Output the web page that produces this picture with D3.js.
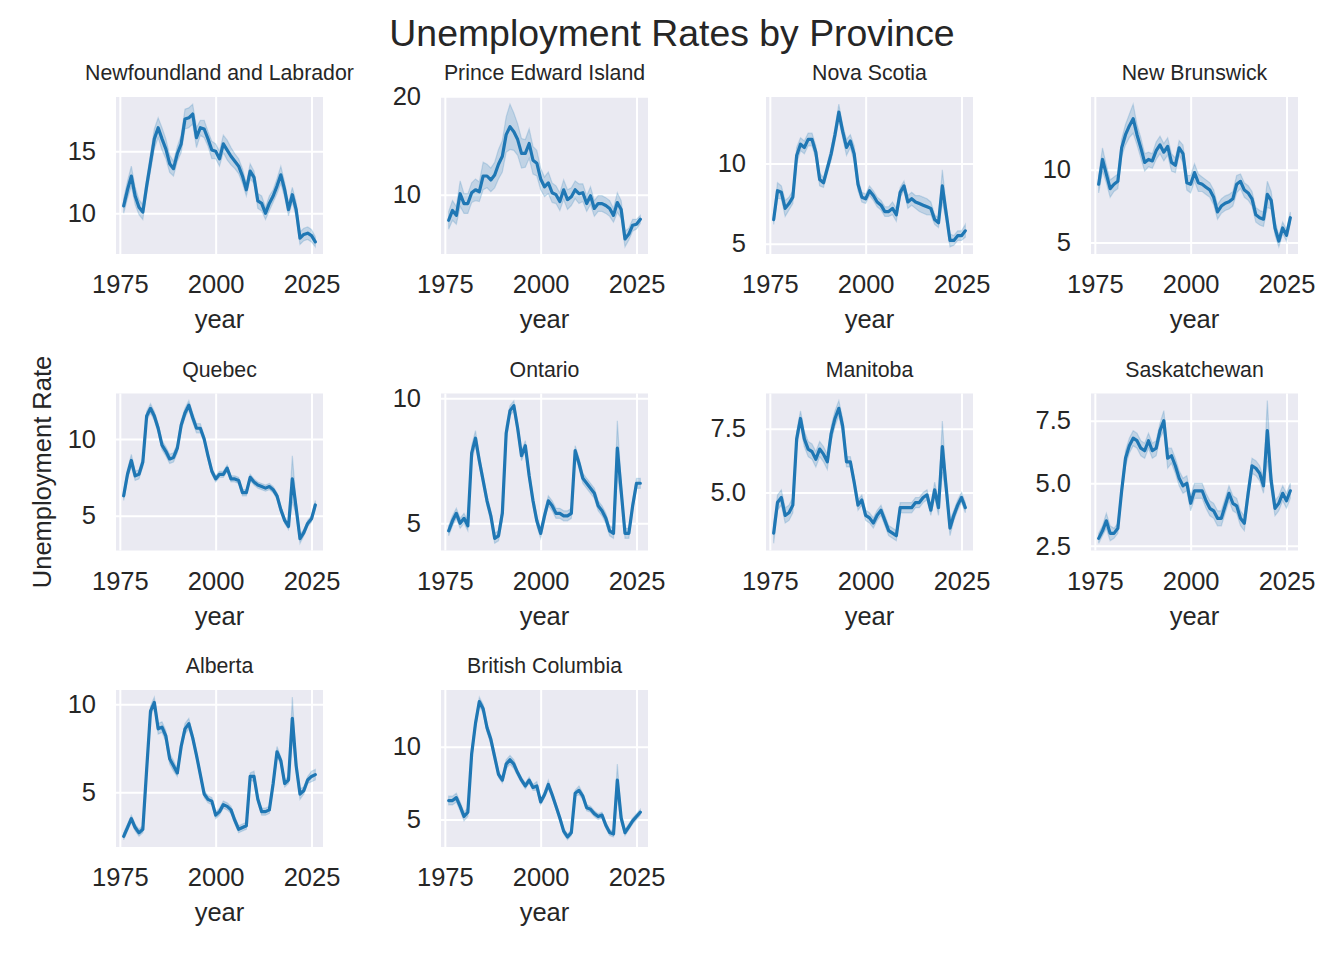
<!DOCTYPE html>
<html>
<head>
<meta charset="utf-8">
<script src="https://cdn.jsdelivr.net/npm/d3@7"></script>
<style>
  body { margin: 0; background: #fff; }
  text { font-family: "Liberation Sans", Arial, sans-serif; fill: #262626; }
</style>
</head>
<body>
<div class="facet-chart"></div>
<script>
// 資料: 年份 1976-2026
const years = [1976,1977,1978,1979,1980,1981,1982,1983,1984,1985,
               1986,1987,1988,1989,1990,1991,1992,1993,1994,1995,
               1996,1997,1998,1999,2000,2001,2002,2003,2004,2005,
               2006,2007,2008,2009,2010,2011,2012,2013,2014,2015,
               2016,2017,2018,2019,2020,2021,2022,2023,2024,2025,2026];

const provinces = ['Newfoundland and Labrador','Prince Edward Island','Nova Scotia','New Brunswick',
                   'Quebec','Ontario','Manitoba','Saskatchewan','Alberta','British Columbia'];

// 各省平均失業率 (mean line)
const nlRate  = [10.6,11.9,13.0,11.4,10.5,10.1,12.2,14.1,16.0,16.9, 16.0,15.2,14.0,13.6,14.8,15.6,17.6,17.7,18.0,16.1,
                 16.9,16.8,16.0,15.1,15.0,14.4,15.6,15.1,14.6,14.2, 13.8,13.0,11.9,13.4,12.9,11.0,10.8,10.0,10.8,11.4,
                 12.2,13.1,11.9,10.3,11.5,10.3,8.0,8.3,8.4,8.2, 7.7];
const peiRate = [7.4,8.4,7.9,10.1,9.1,9.1,10.2,10.5,10.3,11.9, 11.9,11.5,12.0,13.1,13.9,16.1,16.9,16.4,15.6,14.2,
                 14.2,15.2,13.5,13.2,11.6,10.8,11.2,10.2,10.0,9.3, 10.5,9.5,9.8,10.5,10.1,10.2,9.1,9.9,8.6,9.1,
                 9.1,8.9,8.6,7.9,9.2,8.5,5.5,6.0,6.9,7.0, 7.5];
const nsRate  = [6.5,8.3,8.2,7.2,7.5,7.9,10.5,11.2,11.0,11.5, 11.5,10.7,9.0,8.8,9.7,10.6,11.8,13.2,12.0,11.0,
                 11.4,10.6,8.7,7.9,7.8,8.3,8.0,7.6,7.4,7.0, 7.0,7.2,6.8,8.2,8.6,7.6,7.8,7.6,7.5,7.4,
                 7.3,7.2,6.5,6.3,8.6,6.9,5.2,5.2,5.5,5.5, 5.8];
const nbRate  = [9.0,10.7,9.7,8.7,9.0,9.2,11.5,12.4,13.0,13.5, 12.4,11.5,10.5,10.7,10.6,11.3,11.7,11.2,11.6,10.5,
                 10.3,11.5,11.1,9.1,9.0,9.8,9.1,9.0,8.8,8.6, 8.1,7.1,7.5,7.7,7.8,8.0,9.0,9.2,8.6,8.4,
                 8.0,6.9,6.7,6.6,8.3,7.9,6.0,5.1,6.0,5.5, 6.7];
const qcRate  = [6.3,7.7,8.6,7.6,7.7,8.5,11.5,12.0,11.5,10.7, 9.6,9.2,8.7,8.8,9.4,10.9,11.7,12.2,11.4,10.7,
                 10.7,10.0,8.9,7.9,7.4,7.7,7.7,8.1,7.4,7.4, 7.3,6.5,6.5,7.5,7.2,7.0,6.9,6.8,6.9,6.7,
                 6.3,5.4,4.7,4.3,7.4,5.5,3.5,3.9,4.5,4.8, 5.7];
const onRate  = [4.7,5.1,5.4,5.0,5.2,4.9,7.8,8.4,7.5,6.7, 5.9,5.3,4.4,4.5,5.4,8.6,9.5,9.7,8.8,7.7,
                 8.1,6.9,5.9,5.1,4.6,5.3,5.9,5.7,5.4,5.4, 5.3,5.3,5.4,7.9,7.4,6.8,6.6,6.4,6.2,5.7,
                 5.5,5.2,4.7,4.6,8.0,6.3,4.6,4.6,5.7,6.6, 6.6];
const mbRate  = [3.4,4.6,4.8,4.1,4.2,4.5,7.1,7.9,7.1,6.7, 6.6,6.3,6.7,6.5,6.2,7.3,7.9,8.3,7.6,6.2,
                 6.2,5.4,4.5,4.7,4.1,4.0,3.8,4.1,4.3,3.9, 3.5,3.4,3.3,4.4,4.4,4.4,4.4,4.6,4.6,4.8,
                 4.9,4.3,5.1,4.4,6.8,5.2,3.6,4.1,4.5,4.8, 4.4];
const skRate  = [2.8,3.1,3.5,3.0,3.0,3.2,4.7,6.0,6.5,6.8, 6.7,6.4,6.3,6.7,6.3,6.4,7.1,7.5,6.0,6.1,
                 5.7,5.2,4.9,5.0,4.2,4.7,4.7,4.7,4.3,4.0, 3.9,3.6,3.6,4.1,4.6,4.2,4.1,3.6,3.4,4.6,
                 5.7,5.6,5.4,4.9,7.1,5.1,4.0,4.2,4.6,4.3, 4.7];
const abRate  = [2.5,3.0,3.5,3.0,2.7,2.9,6.3,9.6,10.1,8.6, 8.7,8.2,6.9,6.5,6.1,7.6,8.6,8.9,8.1,7.1,
                 6.0,4.9,4.6,4.5,3.7,3.9,4.3,4.2,4.0,3.4, 2.9,3.0,3.1,5.9,5.9,4.6,3.9,3.9,4.0,5.5,
                 7.3,6.8,5.5,5.7,9.2,6.5,4.9,5.1,5.7,5.9, 6.0];
const bcRate  = [6.3,6.3,6.5,5.9,5.2,5.5,9.5,11.6,13.1,12.6, 11.3,10.5,9.3,8.1,7.7,8.8,9.1,8.8,8.2,7.7,
                 7.3,7.7,7.2,7.3,6.2,6.7,7.4,6.7,5.9,5.1, 4.2,3.8,4.1,6.8,7.0,6.6,5.8,5.7,5.4,5.2,
                 5.3,4.6,4.1,4.0,7.7,5.1,4.1,4.5,4.9,5.2, 5.5];

// 信賴區間半寬 (CI half width)
const nlCI  = [0.6,0.7,0.8,0.7,0.6,0.6,0.6,0.7,0.8,0.8, 0.9,0.8,0.7,0.6,0.6,0.7,0.8,0.8,0.8,0.8,
               0.6,0.7,0.6,0.7,0.6,0.6,0.7,0.8,0.7,0.6, 0.6,0.6,0.5,0.6,0.5,0.6,0.6,0.5,0.6,0.5,
               0.6,0.7,0.6,0.5,0.6,0.6,0.5,0.5,0.5,0.5, 0.4];
const peiCI = [0.9,1.0,0.9,1.3,1.0,1.0,1.0,1.1,1.0,1.4, 1.2,1.2,1.3,1.5,1.6,1.8,2.3,1.9,1.6,1.5,
               1.4,1.5,1.4,1.3,1.1,1.0,1.1,1.0,0.9,0.9, 1.0,1.0,0.9,0.9,1.0,0.9,0.8,0.9,0.8,0.8,
               0.8,0.8,0.8,0.7,1.0,0.9,0.8,0.6,0.6,0.5, 0.4];
const nsCI  = [0.3,0.5,0.4,0.5,0.4,0.4,0.5,0.4,0.4,0.4, 0.4,0.4,0.4,0.3,0.3,0.4,0.4,0.5,0.4,0.5,
               0.4,0.5,0.4,0.3,0.3,0.3,0.3,0.3,0.3,0.3, 0.3,0.4,0.4,0.3,0.3,0.4,0.4,0.4,0.5,0.5,
               0.5,0.4,0.3,0.3,1.0,0.5,0.4,0.3,0.3,0.3, 0.4];
const nbCI  = [0.6,0.8,0.6,0.6,0.5,0.5,0.6,0.7,0.8,1.0, 0.7,0.7,0.6,0.5,0.5,0.6,0.6,0.6,0.6,0.6,
               0.5,0.5,0.6,0.5,0.6,0.6,0.6,0.5,0.5,0.5, 0.5,0.5,0.5,0.5,0.5,0.5,0.6,0.5,0.5,0.5,
               0.5,0.5,0.5,0.5,0.9,0.6,0.5,0.4,0.4,0.4, 0.4];
const qcCI  = [0.3,0.3,0.4,0.3,0.3,0.3,0.3,0.3,0.3,0.3, 0.3,0.3,0.3,0.3,0.3,0.3,0.3,0.3,0.3,0.3,
               0.3,0.2,0.2,0.2,0.2,0.2,0.2,0.2,0.2,0.2, 0.2,0.2,0.2,0.2,0.2,0.2,0.2,0.2,0.2,0.2,
               0.2,0.2,0.2,0.2,1.5,0.4,0.3,0.2,0.2,0.2, 0.3];
const onCI  = [0.2,0.2,0.2,0.2,0.2,0.2,0.3,0.3,0.2,0.2, 0.2,0.2,0.2,0.2,0.3,0.3,0.2,0.2,0.2,0.2,
               0.2,0.2,0.2,0.2,0.2,0.2,0.2,0.2,0.2,0.2, 0.2,0.2,0.2,0.2,0.2,0.2,0.2,0.2,0.2,0.2,
               0.2,0.2,0.2,0.2,1.1,0.3,0.2,0.2,0.2,0.2, 0.2];
const mbCI  = [0.4,0.3,0.3,0.3,0.3,0.3,0.3,0.3,0.3,0.3, 0.3,0.3,0.3,0.3,0.3,0.3,0.3,0.3,0.3,0.2,
               0.2,0.2,0.2,0.2,0.2,0.2,0.2,0.2,0.2,0.2, 0.2,0.2,0.2,0.2,0.2,0.2,0.2,0.2,0.2,0.2,
               0.2,0.2,0.3,0.3,1.0,0.3,0.3,0.2,0.2,0.2, 0.2];
const skCI  = [0.2,0.2,0.3,0.3,0.2,0.2,0.2,0.3,0.3,0.3, 0.3,0.3,0.3,0.3,0.3,0.3,0.3,0.4,0.4,0.3,
               0.3,0.3,0.3,0.3,0.3,0.3,0.3,0.3,0.3,0.3, 0.3,0.3,0.3,0.3,0.3,0.3,0.3,0.3,0.3,0.3,
               0.3,0.3,0.3,0.3,1.2,0.4,0.3,0.3,0.3,0.3, 0.3];
const abCI  = [0.2,0.2,0.2,0.2,0.2,0.2,0.2,0.3,0.3,0.3, 0.3,0.3,0.3,0.3,0.2,0.2,0.3,0.3,0.2,0.2,
               0.2,0.2,0.2,0.2,0.2,0.2,0.2,0.2,0.2,0.2, 0.2,0.2,0.2,0.2,0.3,0.2,0.2,0.2,0.2,0.2,
               0.3,0.2,0.2,0.2,1.2,0.3,0.3,0.2,0.2,0.3, 0.3];
const bcCI  = [0.3,0.3,0.3,0.3,0.3,0.3,0.3,0.3,0.3,0.3, 0.3,0.3,0.3,0.2,0.2,0.3,0.3,0.3,0.2,0.2,
               0.2,0.2,0.2,0.3,0.2,0.2,0.3,0.2,0.2,0.2, 0.2,0.2,0.2,0.2,0.3,0.2,0.2,0.2,0.2,0.2,
               0.2,0.2,0.2,0.2,1.1,0.3,0.2,0.2,0.2,0.2, 0.2];

// 刻度
const xTicks = [1975, 2000, 2025];
const yTicks = [[10,15],[10,20],[5,10],[5,10],[5,10],[5,10],[5.0,7.5],[2.5,5.0,7.5],[5,10],[5,10]];

const rates = [nlRate, peiRate, nsRate, nbRate, qcRate, onRate, mbRate, skRate, abRate, bcRate];
const cis   = [nlCI, peiCI, nsCI, nbCI, qcCI, onCI, mbCI, skCI, abCI, bcCI];

// 版面設定
const svg_width = 1344;
const svg_height = 960;
const panel = {left:116, top:97, width:207, height:157, colStep:325, rowStep:296.5, cols:4};
const lineColor = '#1f77b4';

const svg = d3.select('.facet-chart').append('svg')
    .attr('width', svg_width).attr('height', svg_height);

// 大標題
svg.append('text')
    .attr('x', 672).attr('y', 46)
    .attr('text-anchor', 'middle')
    .style('font-size', '37.4px')
    .text('Unemployment Rates by Province');

// y 軸共用標籤
svg.append('text')
    .attr('transform', 'translate(51,472) rotate(-90)')
    .attr('text-anchor', 'middle')
    .style('font-size', '25.5px')
    .text('Unemployment Rate');

provinces.forEach((name, i) => drawPanel(name, i));

function drawPanel(name, i){
    const col = i % panel.cols;
    const row = Math.floor(i / panel.cols);
    const x0 = panel.left + col * panel.colStep;
    const y0 = panel.top + row * panel.rowStep;
    const w = panel.width, h = panel.height;

    const rows = years.map((yr, j) => ({year: yr, value: rates[i][j], lo: rates[i][j] - cis[i][j], hi: rates[i][j] + cis[i][j]}));

    // x 軸比例尺 (加一點邊距)
    const xExt = d3.extent(years);
    const xPad = (xExt[1] - xExt[0]) * 0.04;
    const xScale = d3.scaleLinear([xExt[0] - xPad, xExt[1] + xPad], [0, w]);

    // y 軸比例尺: 依 CI 上下界 + 5% 邊距
    const yMin = d3.min(rows, d => d.lo), yMax = d3.max(rows, d => d.hi);
    const yPad = (yMax - yMin) * 0.05;
    const yScale = d3.scaleLinear([yMin - yPad, yMax + yPad], [h, 0]);

    const g = svg.append('g').attr('transform', `translate(${x0},${y0})`);

    g.append('rect').attr('width', w).attr('height', h).style('fill', '#EAEAF2');

    // 格線
    const xAxis = d3.axisBottom(xScale).tickValues(xTicks).tickFormat(d3.format('d'))
                    .tickSizeInner(-h).tickSizeOuter(0).tickPadding(21);
    const yFmt = yTicks[i].some(v => v % 1 !== 0) ? d3.format('.1f') : d3.format('d');
    const yAxis = d3.axisLeft(yScale).tickValues(yTicks[i]).tickFormat(yFmt)
                    .tickSizeInner(-w).tickSizeOuter(0).tickPadding(20);

    const xAxisDraw = g.append('g').attr('transform', `translate(0,${h})`).call(xAxis);
    const yAxisDraw = g.append('g').call(yAxis);
    [xAxisDraw, yAxisDraw].forEach(ax => {
        ax.select('.domain').remove();
        ax.selectAll('line').style('stroke', '#fff').style('stroke-width', 2);
        ax.selectAll('text').style('font-size', '25.5px').style('fill', '#262626')
          .style('font-family', '"Liberation Sans", Arial, sans-serif');
    });
    xAxisDraw.selectAll('text').attr('dy', '0.71em');

    // 信賴區間
    const area = d3.area().x(d => xScale(d.year)).y0(d => yScale(d.lo)).y1(d => yScale(d.hi));
    g.append('path').datum(rows).attr('d', area)
        .style('fill', lineColor).style('fill-opacity', 0.2)
        .style('stroke', lineColor).style('stroke-opacity', 0.2).style('stroke-width', 1.2);

    // 平均線
    const line = d3.line().x(d => xScale(d.year)).y(d => yScale(d.value));
    g.append('path').datum(rows).attr('d', line)
        .style('fill', 'none').style('stroke', lineColor).style('stroke-width', 3.2)
        .style('stroke-linejoin', 'round').style('stroke-linecap', 'round');

    // 小標題
    g.append('text').attr('x', w / 2).attr('y', -17)
        .attr('text-anchor', 'middle').style('font-size', '21.3px')
        .text(name);

    // x 軸標籤
    g.append('text').attr('x', w / 2).attr('y', h + 74)
        .attr('text-anchor', 'middle').style('font-size', '25.5px')
        .text('year');
}
</script>
</body>
</html>
